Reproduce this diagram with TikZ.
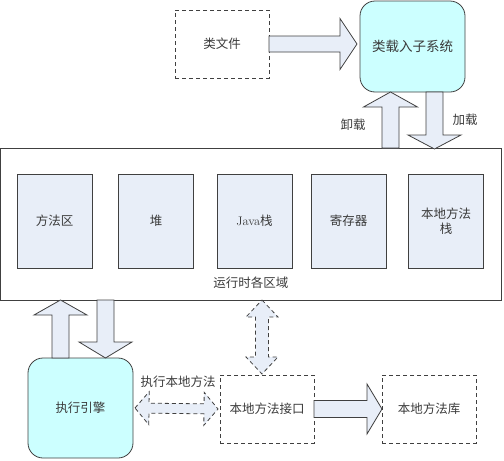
\documentclass[tikz,border=0pt]{standalone}
\usepackage{fontspec}
\newfontfamily\cjk{Noto Sans CJK SC}
\usetikzlibrary{calc}
\usetikzlibrary{positioning}

\definecolor{enginecyan}{HTML}{CCFFFF}
\definecolor{areablue}{HTML}{E8EEF8}
\definecolor{textgray}{HTML}{3A3A3A}
\definecolor{linegray}{HTML}{404040}

% block arrow: [options]{from}{to}{half shaft}{half head}{head length}
\newcommand{\fatarrow}[6][]{%
  \path (#2) coordinate (fa-s) (#3) coordinate (fa-e);
  \path ($(fa-e)!#6!(fa-s)$) coordinate (fa-b);
  \draw[blockarrow,#1] ($(fa-s)!#4!90:(fa-e)$) -- ($(fa-b)!#4!90:(fa-e)$)
    -- ($(fa-b)!#5!90:(fa-e)$) -- (fa-e) -- ($(fa-b)!#5!-90:(fa-e)$)
    -- ($(fa-b)!#4!-90:(fa-e)$) -- ($(fa-s)!#4!-90:(fa-e)$) -- cycle;}
% block arrow with two heads
\newcommand{\fatdarrow}[6][]{%
  \path (#2) coordinate (fd-s) (#3) coordinate (fd-e);
  \path ($(fd-s)!#6!(fd-e)$) coordinate (fd-a) ($(fd-e)!#6!(fd-s)$) coordinate (fd-b);
  \draw[blockarrow,#1] (fd-s) -- ($(fd-a)!#5!90:(fd-e)$) -- ($(fd-a)!#4!90:(fd-e)$)
    -- ($(fd-b)!#4!-90:(fd-s)$) -- ($(fd-b)!#5!-90:(fd-s)$) -- (fd-e)
    -- ($(fd-b)!#5!90:(fd-s)$) -- ($(fd-b)!#4!90:(fd-s)$)
    -- ($(fd-a)!#4!-90:(fd-e)$) -- ($(fd-a)!#5!-90:(fd-e)$) -- cycle;}

\begin{document}
\begin{tikzpicture}[x=1pt,y=-1pt,font=\cjk\fontsize{12.5}{15}\selectfont,text=textgray]
			\tikzset{box/.style={draw=linegray,line width=0.8pt,inner sep=2pt,outer sep=0pt,align=center}}
			\tikzset{dashbox/.style={box,dash pattern=on 4pt off 3pt,minimum width=94pt,minimum height=68pt}}
			\tikzset{unit/.style={box,rounded corners=15pt,fill=enginecyan,minimum width=105pt}}
			\tikzset{area/.style={box,fill=areablue,minimum width=75pt,minimum height=94pt}}
			\tikzset{blockarrow/.style={draw=linegray,line width=0.8pt,fill=areablue,line join=miter}}
			\tikzset{dashed arrow/.style={dash pattern=on 4pt off 3pt}}
			\useasboundingbox (0,0) rectangle (504,461);
			% Place Nodes
			\node[dashbox] (classfile) at (222,44) {类文件};
			\node[unit,minimum height=91pt,font=\cjk\fontsize{13.5}{15}\selectfont] (loader) at (412.5,46.5) {类载入子系统};
			\node[box,minimum width=500.5pt,minimum height=152pt] (runtime) at (250.75,224) {};
			\node[area] (method) at (54.5,221) {方法区};
			\node[area] (heap) at (156,221) {堆};
			\node[area] (jstack) at (254.5,221) {{\rmfamily Java}栈};
			\node[area] (register) at (348.5,221) {寄存器};
			\node[area] (nstack) at (446,221) {本地方法\\栈};
			\node (runlabel) at ([yshift=17pt]runtime.south) {运行时各区域};
			\node[unit,minimum height=100pt] (engine) at (80.5,408) {执行引擎};
			\node[dashbox] (iface) at (267,409) {本地方法接口};
			\node[dashbox] (nlib) at (429,409) {本地方法库};
			% Arrow end points
			\coordinate (unload-top) at ([xshift=-22pt]loader.south);
			\coordinate (unload-bot) at (unload-top |- runtime.north);
			\coordinate (load-top) at ([xshift=22pt]loader.south);
			\coordinate (load-bot) at ([yshift=-1pt]load-top |- runtime.north);
			\coordinate (up-bot) at ([xshift=-20pt]engine.north);
			\coordinate (up-top) at (up-bot |- runtime.south);
			\coordinate (down-bot) at ([xshift=25pt]engine.north);
			\coordinate (down-top) at (down-bot |- runtime.south);
			\coordinate (jni-bot) at ([xshift=-5pt,yshift=1pt]iface.north);
			\coordinate (jni-top) at (jni-bot |- runtime.south);
			% Label arrows
			\node (unloadlabel) at (353,125) {卸载};
			\node (loadlabel) at (465,120) {加载};
			\node (calllabel) at (178,382) {执行本地方法};
			% Draw block arrows
			\fatarrow{classfile.east}{[xshift=-3pt]classfile.east -| loader.west}{8pt}{25.5pt}{17pt}
			\fatarrow{unload-bot}{unload-top}{8.5pt}{27pt}{15pt}
			\fatarrow{load-top}{load-bot}{8.5pt}{26.5pt}{14pt}
			\fatarrow{up-bot}{up-top}{8.5pt}{26.5pt}{15pt}
			\fatarrow{down-top}{down-bot}{8.5pt}{26.5pt}{16pt}
			\fatdarrow[dashed arrow]{jni-top}{jni-bot}{6.5pt}{16pt}{17pt}
			\fatdarrow[dashed arrow]{[xshift=2pt]engine.east}{[xshift=-2pt]iface.west}{5pt}{16.5pt}{14pt}
			\fatarrow{iface.east}{nlib.west}{8.5pt}{25pt}{15pt}
			\end{tikzpicture}
\end{document}
